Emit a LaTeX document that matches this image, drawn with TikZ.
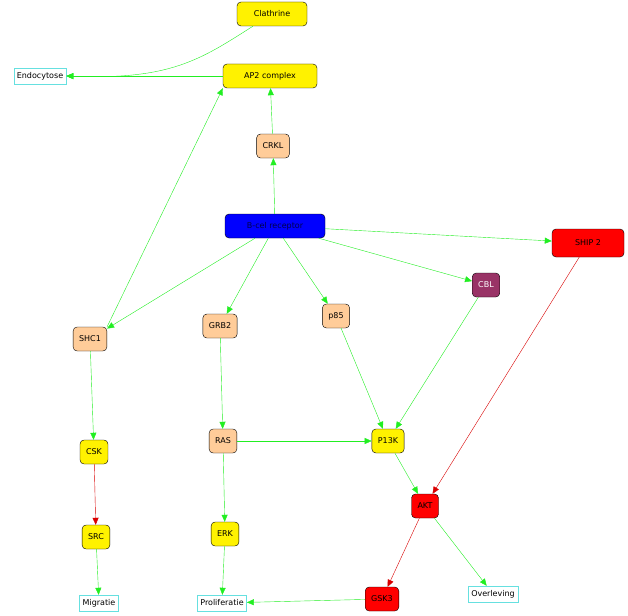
\documentclass[tikz,border=0pt]{standalone}
\usepackage{fontspec}
\setmainfont{DejaVu Sans}
\usetikzlibrary{arrows.meta}
\definecolor{peach}{HTML}{FFCC99}
\definecolor{cbl}{HTML}{993366}
\definecolor{cy}{HTML}{66E0E0}
\definecolor{gr}{HTML}{22EE22}
\begin{document}
\begin{tikzpicture}[x=1pt,y=-1pt,
 nbox/.style={draw=black,rounded corners=4pt,minimum height=24pt,inner xsep=6pt,font=\fontsize{8}{9}\selectfont},
 yelbox/.style={nbox,fill=yellow},
 pchbox/.style={nbox,fill=peach},
 redbox/.style={nbox,fill=red},
 outbox/.style={draw=cy,fill=white,minimum height=16pt,inner xsep=3pt,font=\fontsize{8}{9}\selectfont},
 garr/.style={draw=gr,-{Triangle[length=7pt,width=6pt]}},
 rarr/.style={draw=red!85!black,-{Triangle[length=7pt,width=6pt]}}]
\useasboundingbox (0,0) rectangle (628,615);
\node[yelbox,minimum width=70pt] (cla) at (272,14) {Clathrine};
\node[yelbox,minimum width=94pt] (ap2) at (270,76) {AP2 complex};
\node[outbox] (endo) at (40,76) {Endocytose};
\node[pchbox] (crkl) at (273,146) {CRKL};
\node[nbox,fill=blue,minimum width=100pt,text=blue!30!black] (bcr) at (275,226) {B-cel receptor};
\node[redbox,minimum width=72pt,minimum height=28pt] (ship) at (588,243) {SHIP 2};
\node[nbox,fill=cbl,text=white] (cbl) at (486,285) {CBL};
\node[pchbox] (p85) at (336,316) {p85};
\node[pchbox] (grb2) at (220,326) {GRB2};
\node[pchbox] (shc1) at (90,339) {SHC1};
\node[yelbox] (csk) at (94,452) {CSK};
\node[pchbox] (ras) at (223,441) {RAS};
\node[yelbox] (p13k) at (388,441) {P13K};
\node[redbox] (akt) at (425,506) {AKT};
\node[yelbox] (src) at (96,537) {SRC};
\node[yelbox] (erk) at (225,534) {ERK};
\node[redbox] (gsk3) at (382,599) {GSK3};
\node[outbox] (mig) at (99,603) {Migratie};
\node[outbox] (pro) at (222,603) {Proliferatie};
\node[outbox] (ove) at (493,594) {Overleving};
\draw[garr] (cla) .. controls (200,60) and (170,80) .. (endo.east);
\draw[garr] (ap2) -- (endo);
\draw[garr] (crkl) -- (ap2);
\draw[garr] (bcr) -- (crkl);
\draw[garr] (shc1.north east) -- (ap2.south west);
\draw[garr] (bcr) -- (shc1);
\draw[garr] (bcr) -- (grb2);
\draw[garr] (bcr) -- (p85);
\draw[garr] (bcr) -- (cbl);
\draw[garr] (bcr) -- (ship);
\draw[garr] (shc1) -- (csk);
\draw[rarr] (csk) -- (src);
\draw[garr] (src) -- (mig);
\draw[garr] (grb2) -- (ras);
\draw[garr] (ras) -- (p13k);
\draw[garr] (ras) -- (erk);
\draw[garr] (erk) -- (pro);
\draw[garr] (p85) -- (p13k);
\draw[garr] (cbl) -- (p13k);
\draw[rarr] (ship) -- (akt);
\draw[garr] (p13k) -- (akt);
\draw[rarr] (akt) -- (gsk3);
\draw[garr] (akt) -- (ove);
\draw[garr] (gsk3) -- (pro);
\end{tikzpicture}
\end{document}
